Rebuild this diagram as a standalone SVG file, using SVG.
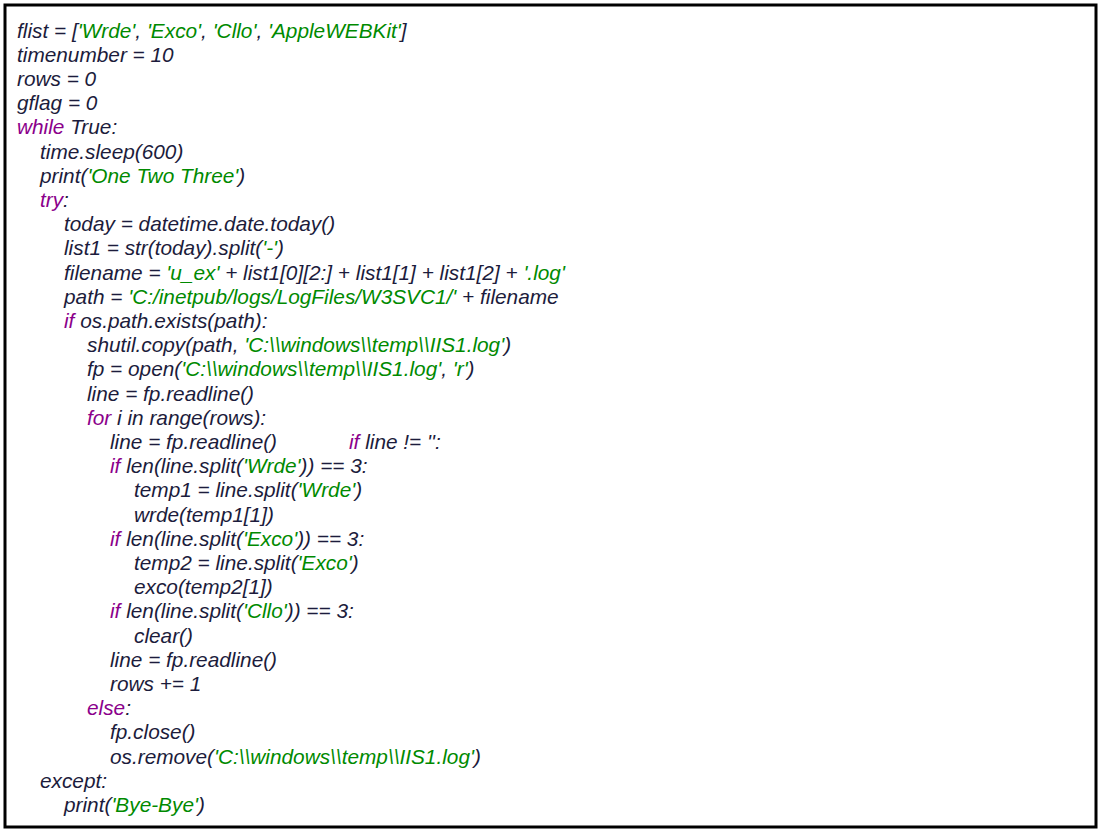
<svg xmlns="http://www.w3.org/2000/svg" width="1100" height="832" viewBox="0 0 1100 832">
<style>
text{font-family:"Liberation Sans",Arial,sans-serif;font-style:italic;font-size:20.8px;fill:#1c1c3c;white-space:pre}
.s{fill:#008a00}.k{fill:#8b008b}
</style>
<rect x="0" y="0" width="1100" height="832" fill="#fff"/>
<rect x="5" y="5" width="1091" height="822" fill="#fff" stroke="#000" stroke-width="3"/>
<g id="code">
<text x="17" y="38">flist = [<tspan class="s">'Wrde'</tspan>, <tspan class="s">'Exco'</tspan>, <tspan class="s">'Cllo'</tspan>, <tspan class="s">'AppleWEBKit'</tspan>]</text>
<text x="17" y="62">timenumber = 10</text>
<text x="17" y="86">rows = 0</text>
<text x="17" y="110">gflag = 0</text>
<text x="17" y="134"><tspan class="k">while</tspan> True:</text>
<text x="40" y="159">time.sleep(600)</text>
<text x="40" y="183">print(<tspan class="s">'One Two Three'</tspan>)</text>
<text x="40" y="207"><tspan class="k">try</tspan>:</text>
<text x="64" y="231">today = datetime.date.today()</text>
<text x="64" y="255">list1 = str(today).split(<tspan class="s">'-'</tspan>)</text>
<text x="64" y="280">filename = <tspan class="s">'u_ex'</tspan> + list1[0][2:] + list1[1] + list1[2] + <tspan class="s">'.log'</tspan></text>
<text x="64" y="304">path = <tspan class="s">'C:/inetpub/logs/LogFiles/W3SVC1/'</tspan> + filename</text>
<text x="64" y="328"><tspan class="k">if</tspan> os.path.exists(path):</text>
<text x="87" y="352">shutil.copy(path, <tspan class="s">'C:\\windows\\temp\\IIS1.log'</tspan>)</text>
<text x="87" y="376">fp = open(<tspan class="s">'C:\\windows\\temp\\IIS1.log'</tspan>, <tspan class="s">'r'</tspan>)</text>
<text x="87" y="401">line = fp.readline()</text>
<text x="87" y="425"><tspan class="k">for</tspan> i in range(rows):</text>
<text x="110" y="449">line = fp.readline()</text>
<text x="349" y="449"><tspan class="k">if</tspan> line != '':</text>
<text x="110" y="473"><tspan class="k">if</tspan> len(line.split(<tspan class="s">'Wrde'</tspan>)) == 3:</text>
<text x="134" y="497">temp1 = line.split(<tspan class="s">'Wrde'</tspan>)</text>
<text x="134" y="522">wrde(temp1[1])</text>
<text x="110" y="546"><tspan class="k">if</tspan> len(line.split(<tspan class="s">'Exco'</tspan>)) == 3:</text>
<text x="134" y="570">temp2 = line.split(<tspan class="s">'Exco'</tspan>)</text>
<text x="134" y="594">exco(temp2[1])</text>
<text x="110" y="618"><tspan class="k">if</tspan> len(line.split(<tspan class="s">'Cllo'</tspan>)) == 3:</text>
<text x="134" y="643">clear()</text>
<text x="110" y="667">line = fp.readline()</text>
<text x="110" y="691">rows += 1</text>
<text x="87" y="715"><tspan class="k">else</tspan>:</text>
<text x="110" y="739">fp.close()</text>
<text x="110" y="764">os.remove(<tspan class="s">'C:\\windows\\temp\\IIS1.log'</tspan>)</text>
<text x="40" y="788">except:</text>
<text x="64" y="812">print(<tspan class="s">'Bye-Bye'</tspan>)</text>
</g>
</svg>
